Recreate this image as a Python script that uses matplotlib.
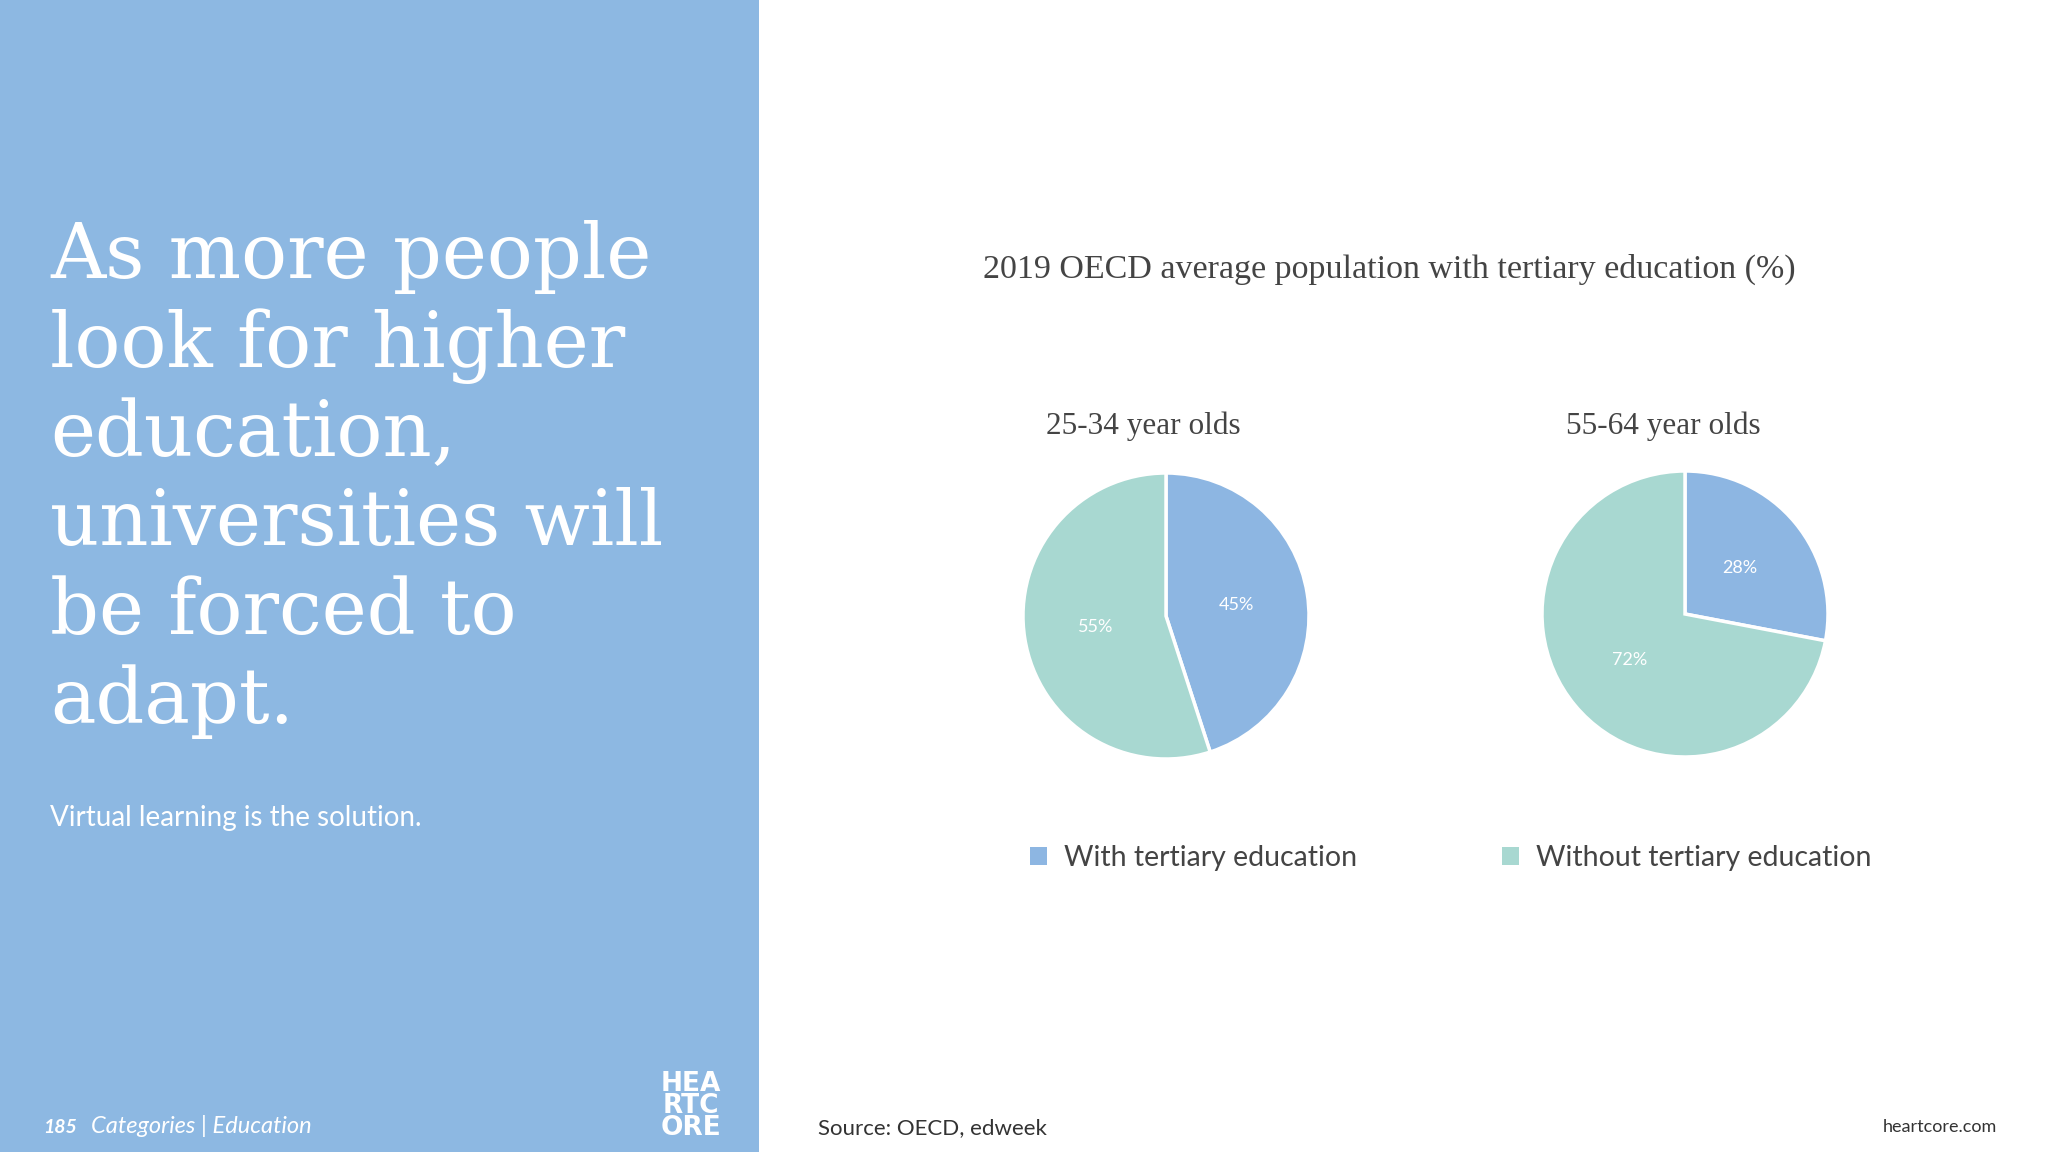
import matplotlib.pyplot as plt
from matplotlib.patches import Rectangle

# data
groups = ["25-34 year olds", "55-64 year olds"]
categories = ["With tertiary education", "Without tertiary education"]
shares = [[45, 55], [28, 72]]
colors = ["#8db6e2", "#a8d8d1"]

headline = ["As more people", "look for higher", "education,",
            "universities will", "be forced to", "adapt."]

W, H = 2048, 1152
fig = plt.figure(figsize=(W / 100, H / 100), dpi=100)
fig.patch.set_facecolor("white")

# left panel
fig.add_artist(Rectangle((0, 0), 759 / W, 1, transform=fig.transFigure,
                         facecolor="#8db8e2", edgecolor="none", zorder=0))

serif = "DejaVu Serif"
sans = "Lato"
for i, line in enumerate(headline):
    fig.text(50 / W, 1 - (278 + 89 * i) / H, line, color="white",
             fontsize=55, family=serif, va="baseline", ha="left")
fig.text(50 / W, 1 - 826 / H, "Virtual learning is the solution.", color="white",
         fontsize=20, family=sans, va="baseline")
fig.text(43 / W, 1 - 1133 / H, "185", color="white", fontsize=14, family=sans,
         weight="bold", style="italic", va="baseline")
fig.text(91 / W, 1 - 1133 / H, "Categories | Education", color="white", fontsize=17,
         family=sans, style="italic", va="baseline")
# logo block
fig.text(691 / W, 1 - 1106 / H, "HEA\nRTC\nORE", color="white",
         fontsize=19, family="DejaVu Sans", weight="heavy",
         ha="center", va="center", multialignment="center", linespacing=0.82)

# right side
fig.text(1389 / W, 1 - 278 / H, "2019 OECD average population with tertiary education (%)",
         color="#444444", fontsize=24.5, family="Liberation Serif", ha="center", va="baseline")
fig.text(818 / W, 1 - 1134 / H, "Source: OECD, edweek", color="#333333", fontsize=16,
         family=sans, va="baseline")
fig.text(1997 / W, 1 - 1132 / H, "heartcore.com", color="#333333", fontsize=13,
         family=sans, ha="right", va="baseline")

centers = [(1166, 616), (1685, 614)]
title_x = [1143, 1663]
r = 143
pad = 1.1
wedges = None
for k, (cx, cy) in enumerate(centers):
    s = r * pad
    ax = fig.add_axes([(cx - s) / W, (H - cy - s) / H, 2 * s / W, 2 * s / H])
    w, _, autotexts = ax.pie(shares[k], colors=colors, startangle=90, counterclock=False,
                             autopct="%d%%", pctdistance=0.5,
                             wedgeprops=dict(edgecolor="white", linewidth=2.5),
                             textprops=dict(color="white", fontsize=13, family=sans))
    ax.set_xlim(-pad, pad)
    ax.set_ylim(-pad, pad)
    ax.set_aspect("equal")
    ax.axis("off")
    if wedges is None:
        wedges = w
    fig.text(title_x[k] / W, 1 - 434 / H, groups[k], color="#444444", fontsize=22.5,
             family="Liberation Serif", ha="center", va="baseline")

leg = fig.legend(wedges, categories, loc="center left",
                 bbox_to_anchor=(1004 / W, 1 - 858 / H), ncol=2, frameon=False,
                 handlelength=0.6, handleheight=0.6, handletextpad=0.6,
                 columnspacing=5.1, prop=dict(family=sans, size=20.5))
for t in leg.get_texts():
    t.set_color("#444444")
for h in leg.legend_handles:
    h.set_edgecolor("none")

fig.savefig("out.png", dpi=100, facecolor="white")
